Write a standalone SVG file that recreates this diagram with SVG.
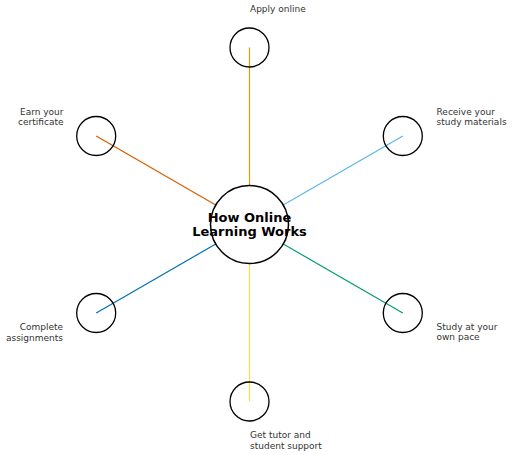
<svg xmlns="http://www.w3.org/2000/svg" width="512" height="455" viewBox="0 0 512 455">
<style>
.bg{fill:#ffffff}
.out{fill:none;stroke:#000000;stroke-width:1.3}
.hub{fill:#ffffff;stroke:#000000;stroke-width:1.5}
.lbl{font-family:"DejaVu Sans",sans-serif;font-size:9px;fill:#333333}
.ttl{font-family:"DejaVu Sans",sans-serif;font-size:13px;font-weight:bold;fill:#000000;text-anchor:middle}
.ln{stroke-width:1.2;fill:none}
</style>
<rect class="bg" x="0" y="0" width="512" height="455"/>
<g id="connectors">
<line class="ln" x1="249.5" y1="47.5" x2="249.5" y2="224.5" stroke="#E69F00"/>
<line class="ln" x1="402.8" y1="136" x2="249.5" y2="224.5" stroke="#56B4E9"/>
<line class="ln" x1="402.8" y1="313" x2="249.5" y2="224.5" stroke="#009E73"/>
<line class="ln" x1="249.5" y1="401.5" x2="249.5" y2="224.5" stroke="#F0E442"/>
<line class="ln" x1="96.2" y1="313" x2="249.5" y2="224.5" stroke="#0072B2"/>
<line class="ln" x1="96.2" y1="136" x2="249.5" y2="224.5" stroke="#D55E00"/>
</g>
<g id="center">
<circle class="hub" cx="249.5" cy="224.5" r="39"/>
<text class="ttl" x="249.5" y="221.5">How Online</text>
<text class="ttl" x="249.5" y="235.5">Learning Works</text>
</g>
<g id="apply">
<circle class="out" cx="249.5" cy="47.5" r="19.5"/>
<text class="lbl" x="250" y="12">Apply online</text>
</g>
<g id="receive">
<circle class="out" cx="402.8" cy="136" r="19.5"/>
<text class="lbl" x="436.5" y="114.5">Receive your</text>
<text class="lbl" x="436.5" y="125">study materials</text>
</g>
<g id="study">
<circle class="out" cx="402.8" cy="313" r="19.5"/>
<text class="lbl" x="436.5" y="329.5">Study at your</text>
<text class="lbl" x="436.5" y="340">own pace</text>
</g>
<g id="tutor">
<circle class="out" cx="249.5" cy="401.5" r="19.5"/>
<text class="lbl" x="250" y="438">Get tutor and</text>
<text class="lbl" x="250" y="448.5">student support</text>
</g>
<g id="assign">
<circle class="out" cx="96.2" cy="313" r="19.5"/>
<text class="lbl" x="63" y="330" text-anchor="end">Complete</text>
<text class="lbl" x="63" y="340.5" text-anchor="end">assignments</text>
</g>
<g id="certificate">
<circle class="out" cx="96.2" cy="136" r="19.5"/>
<text class="lbl" x="63.5" y="114.5" text-anchor="end">Earn your</text>
<text class="lbl" x="63.5" y="125" text-anchor="end">certificate</text>
</g>
</svg>
